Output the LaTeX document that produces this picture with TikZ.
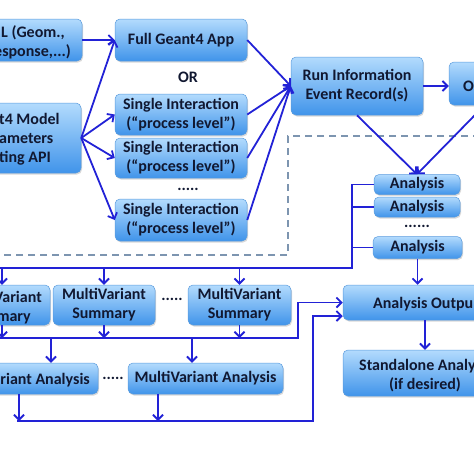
\documentclass[tikz,border=0pt]{standalone}
\usepackage{fontspec}
\setmainfont{Carlito}
\usetikzlibrary{arrows.meta, shadows, positioning}
\definecolor{boxtop}{HTML}{B3DBFD}
\definecolor{boxbot}{HTML}{4094EA}
\definecolor{boxline}{HTML}{5A9BDD}
\definecolor{txtcol}{HTML}{111831}
\definecolor{arrcol}{HTML}{2222D6}
\definecolor{dashcol}{HTML}{7D95B0}

\begin{document}
\begin{tikzpicture}[x=1pt, y=-1pt,
  font=\fontsize{16}{19}\selectfont\bfseries, text=txtcol,
  box/.style={rectangle, rounded corners=5pt, draw=boxline, line width=0.5pt,
    top color=boxtop, bottom color=boxbot, align=center, inner sep=0pt,
    drop shadow={opacity=0.3, shadow xshift=1pt, shadow yshift=-1.5pt}},
  txt/.style={inner sep=0pt},
  arr/.style={draw=arrcol, line width=1.8pt, -{Straight Barb[length=5pt,width=10pt]}},
  bus/.style={draw=arrcol, line width=1.8pt}]

  \useasboundingbox (0,0) rectangle (474,474);
  \clip (0,0) rectangle (474,474);

  % inputs
  \node[box, minimum width=122pt, minimum height=42pt] (geom) at (21,40) {};
  \node[txt, anchor=east, align=right] (geomtxt) at (71,42.5) {L (Geom.,\hspace*{6pt}\\esponse,...)};
  \node[box, minimum width=121pt, minimum height=70pt] (model) at (20.5,138) {};
  \node[txt, anchor=west, align=left] (modeltxt) at (-1,139) {t4 Model\\ameters\\ting API};

  \node[box, minimum width=132pt, minimum height=42pt] (full) at (181,40) {Full Geant4 App};
  \node (or) at (188,77) {OR};
  \node[box, minimum width=132pt, minimum height=41pt] (si1) at (181,114.5) {Single Interaction\\(“process level”)};
  \node[box, minimum width=132pt, minimum height=40pt] (si2) at (181,158) {Single Interaction\\(“process level”)};
  \node (sidots) at (188,189) {.....};
  \node[box, minimum width=132pt, minimum height=42pt] (si3) at (181,220) {Single Interaction\\(“process level”)};

  \node[box, minimum width=132pt, minimum height=58pt] (run) at (357,86) {Run Information\\Event Record(s)};
  \node[box, minimum width=71pt, minimum height=43pt] (out) at (484.5,83.5) {};
  \node[txt, anchor=west] (outtxt) at (463,86) {Ou};

  % analysis
  \node[box, minimum width=86pt, minimum height=20pt] (ana1) at (417,184.5) {Analysis};
  \node[box, minimum width=86pt, minimum height=20pt] (ana2) at (417,207) {Analysis};
  \node (anadots) at (417,226) {......};
  \node[box, minimum width=89pt, minimum height=22pt] (ana3) at (417.5,247.5) {Analysis};

  \node[box, minimum width=164pt, minimum height=35pt] (aout) at (425,302.5) {};
  \node[txt, anchor=west] (aouttxt) at (373,304) {Analysis Outpu};
  \node[box, minimum width=164pt, minimum height=46pt] (std) at (425,373) {};
  \node[txt, anchor=west, align=left] (stdtxt) at (359,376) {Standalone Analy\\\hspace*{30pt}(if desired)};

  % multivariant
  \node[box, minimum width=96pt, minimum height=40pt] (mvs0) at (2,305) {};
  \node[txt, anchor=east, align=right] (mvs0txt) at (42,307.5) {Variant\\mary\hspace*{11pt}};
  \node[box, minimum width=102pt, minimum height=40pt] (mvs1) at (104,305) {MultiVariant\\Summary};
  \node (mvsdots) at (172,299) {.....};
  \node[box, minimum width=103pt, minimum height=40pt] (mvs2) at (239.5,305) {MultiVariant\\Summary};

  \node[box, minimum width=158pt, minimum height=31pt] (mva0) at (19,378.5) {};
  \node[txt, anchor=east] (mva0txt) at (90,380) {riant Analysis};
  \node (mvadots) at (113,378) {.....};
  \node[box, minimum width=155pt, minimum height=31pt] (mva1) at (205.5,378.5) {MultiVariant Analysis};

  % dashed frame
  \draw[dashcol, line width=1.6pt, dash pattern=on 7pt off 5pt] (480,136) -- (288,136) -- (288,255) -- (-5,255);

  % connectors
  \draw[arr] (geom.east) -- (full.west);
  \foreach \t in {full, si1, si2, si3}
    \draw[arr] (model.east) -- (\t.west);
  \foreach \s in {full, si1, si2, si3}
    \draw[arr] (\s.east) -- (run.west);
  \draw[arr] (run.east) -- (run.east -| out.west);
  \draw[arr] (run.south) -- (ana1.north);
  \draw[arr] (out.south) -- (ana1.north);

  \coordinate (brk) at (352,268);
  \coordinate (b1l) at (-5,268);
  \draw[bus] (ana1.west) -| (brk) -- (b1l);
  \draw[bus] (ana2.west) -- (ana2.west -| brk);
  \draw[bus] (ana3.west) -- (ana3.west -| brk);
  \foreach \m in {mvs0, mvs1, mvs2}
    \draw[arr] (\m.north |- brk) -- (\m.north);
  \draw[arr] (ana3.south) -- (ana3.south |- aout.north);
  \draw[arr] (aout.south) -- (std.north);

  \coordinate (b2l) at (-5,338);
  \coordinate (b2r) at (298,338);
  \draw[arr] (b2l) -- (b2r) |- (aout.west);
  \foreach \m in {mvs0, mvs1, mvs2}
    \draw[arr] (\m.south) -- (\m.south |- b2l);
  \draw[arr] ([xshift=32pt]mva0.north |- b2l) -- ([xshift=32pt]mva0.north);
  \draw[arr] ([xshift=-13.5pt]mva1.north |- b2l) -- ([xshift=-13.5pt]mva1.north);

  \coordinate (b3l) at (17,421);
  \coordinate (b3r) at (313,421);
  \draw[arr] (b3l) -- (b3r) |- ([yshift=-13.5pt]aout.west);
  \draw[arr] (mva0.south) -- (mva0.south |- b3l);
  \draw[arr] ([xshift=-47.5pt]mva1.south) -- ([xshift=-47.5pt]mva1.south |- b3l);
\end{tikzpicture}
\end{document}
